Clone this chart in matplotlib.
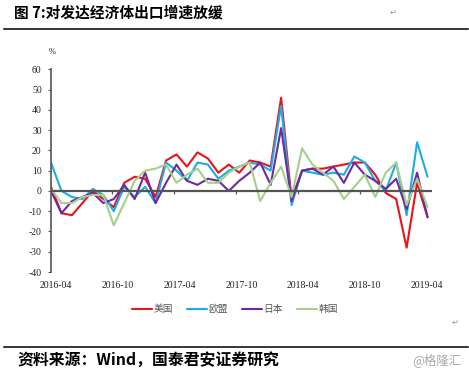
import numpy as np
import matplotlib
matplotlib.use("Agg")
import matplotlib.pyplot as plt
from matplotlib.lines import Line2D

# ---------------- data ----------------
months = ["2016-04", "2016-10", "2017-04", "2017-10", "2018-04", "2018-10", "2019-04"]
series_names = ["美国", "欧盟", "日本", "韩国"]
us = [2, -11, -12, -6, 0, -4, -8, 4, 7, 6, -3, 15, 18, 12, 19, 16, 9, 13, 9, 15, 14,
      12, 46, -4, 10, 11, 11, 12, 13, 14, 14, 8, -1, -4, -28, 4, -13]
eu = [14, 0, -3, -4, 1, -2, -10, 2, -3, 2, -6, 14, 10, 5, 14, 13, 6, 10, 12, 14, 13,
      10, 42, -7, 10, 9, 8, 9, 8, 17, 14, 5, 0, 14, -12, 24, 7]
jp = [0, -11, -5, -3, -1, -6, -4, 3, -4, 9, -6, 4, 13, 5, 3, 6, 5, 0, 5, 9, 14,
      3, 31, -5, 10, 11, 8, 12, 4, 14, 8, 5, 1, 6, -9, 9, -13]
kr = [1, -6, -6, -3, -2, -2, -17, -6, 5, 10, 11, 13, 4, 8, 11, 4, 4, 9, 12, 14, -5,
      4, 12, -3, 21, 13, 9, 5, -4, 2, 8, -3, 9, 14, -7, 6, -8]
yticks = [60, 50, 40, 30, 20, 10, 0, -10, -20, -30, -40]

colors = ["#E8131B", "#1BADE3", "#6E2A9E", "#A6CF8C"]

W, H = 469, 374
fig = plt.figure(figsize=(W / 100, H / 100), dpi=100)
fig.patch.set_facecolor("white")

def fx(px):
    return px / W

def fy(py):
    return 1 - py / H

left, right, top, bottom = 51, 431.7, 69.3, 272
ax = fig.add_axes([fx(left), fy(bottom), fx(right - left), (bottom - top) / H])

x = np.arange(len(us))
for vals, c, name in zip([us, eu, jp, kr], colors, series_names):
    ax.plot(x, vals, color=c, lw=1.5, label=name, solid_joinstyle="round",
            solid_capstyle="round", zorder=2)
ax.axhline(0, color="#555555", lw=1.6, zorder=3)

ax.set_xlim(0, (right - left) / 10.46)
ax.set_ylim(-40, 60)

for s in ["top", "right", "bottom"]:
    ax.spines[s].set_visible(False)
ax.spines["left"].set_color("#555555")
ax.spines["left"].set_linewidth(1.2)

serif = "Liberation Serif"
ax.set_yticks(yticks)
ax.set_yticklabels([str(v) for v in yticks], fontsize=7, family=serif, color="#222222")
ax.tick_params(axis="y", direction="out", length=2.2, width=0.8, color="#555555", pad=4.5)

label_pos = 0.48 + 5.91 * np.arange(len(months))
ax.set_xticks(label_pos)
ax.set_xticklabels(months, fontsize=7, family=serif, color="#222222")
ax.tick_params(axis="x", length=0, pad=6.5)

# small tick marks on the zero line
sec = ax.secondary_xaxis(0.4)
sec.set_xticks(5.86 + 5.92 * np.arange(5))
sec.set_xticklabels([])
sec.tick_params(axis="x", direction="out", length=2.2, width=0.9, color="#555555")
sec.spines["bottom"].set_visible(False)

# legend
leg = ax.legend(loc="center", bbox_to_anchor=(fx(235), fy(309)),
                bbox_transform=fig.transFigure, ncol=4, frameon=False,
                prop={"family": ["Noto Sans CJK SC", "DejaVu Sans"], "size": 7},
                handlelength=2.1, handletextpad=0.15, columnspacing=1.4)
for t in leg.get_texts():
    t.set_color("#555555")

cjk = ["Noto Sans CJK SC", "DejaVu Sans"]
fig.text(fx(52), fy(52), "%", fontsize=6, family=serif, ha="center", va="center",
         color="#222222")
fig.text(fx(14), fy(12.5), "图 7:对发达经济体出口增速放缓", fontsize=10.6,
         fontweight="bold", family=cjk, ha="left", va="center", color="black")
fig.text(fx(393), fy(12), "↵", fontsize=6, color="#999999", ha="center", va="center")
fig.text(fx(455), fy(322), "↵", fontsize=6, color="#999999", ha="center", va="center")

fig.add_artist(Line2D([fx(4), fx(468)], [fy(29.3), fy(29.3)], color="black", lw=1.1))
fig.add_artist(Line2D([fx(4), fx(468)], [fy(346.7), fy(346.7)], color="black", lw=1.1))

fig.text(fx(17), fy(360), "资料来源：Wind，国泰君安证券研究", fontsize=11.4,
         fontweight="bold", family=cjk, ha="left", va="center", color="black")
fig.text(fx(462), fy(360), "@格隆汇", fontsize=9, family=cjk, ha="right",
         va="center", color="#aaaaaa")

fig.savefig("out.png", dpi=100, facecolor="white")
